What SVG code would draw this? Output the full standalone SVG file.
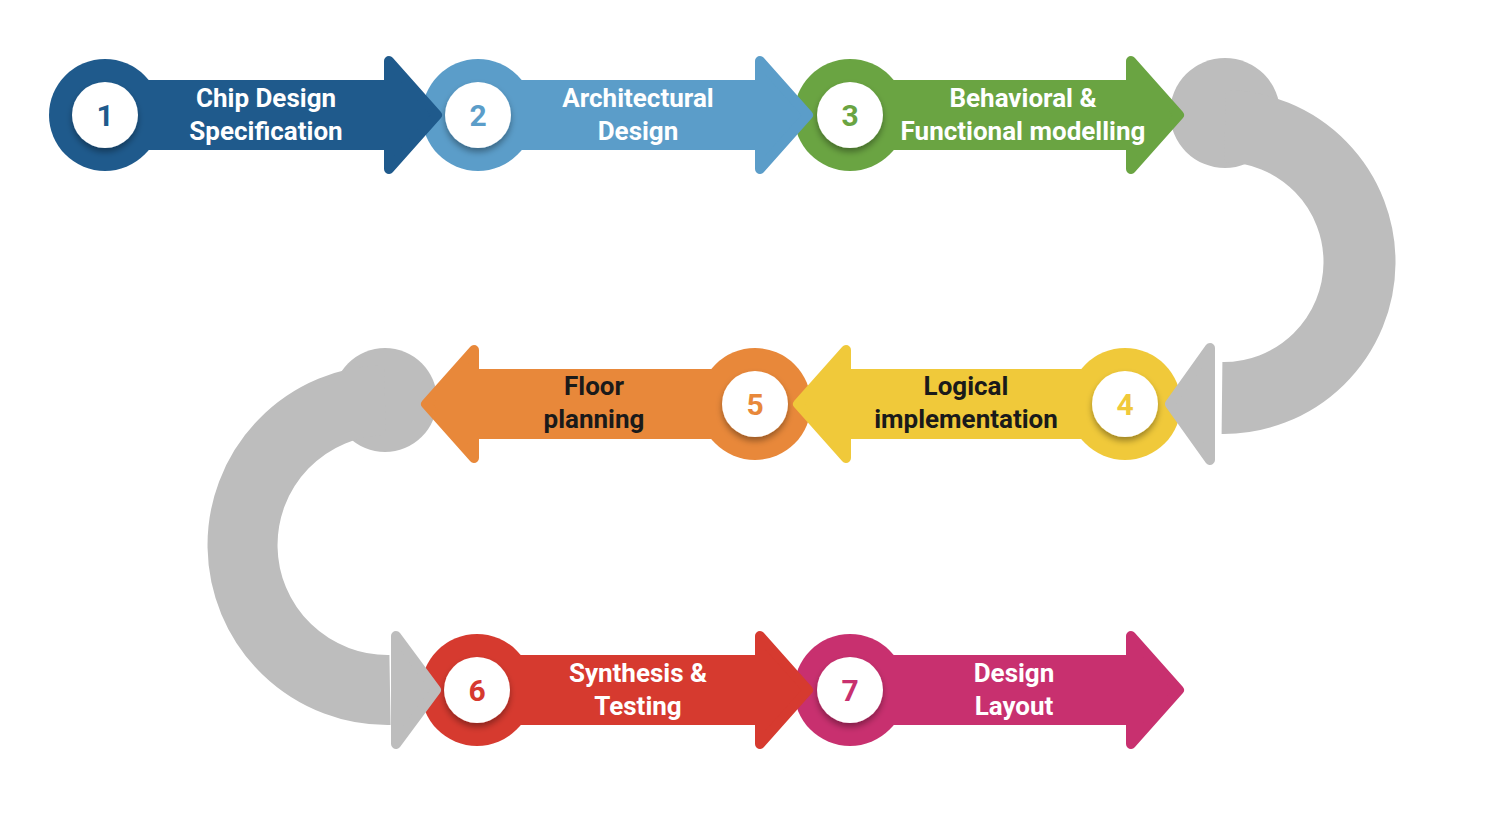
<svg xmlns="http://www.w3.org/2000/svg" width="1502" height="825" viewBox="0 0 1502 825">
<defs>
<filter id="sh" x="-30%" y="-30%" width="160%" height="170%"><feDropShadow dx="0" dy="4" stdDeviation="3" flood-color="#000" flood-opacity="0.35"/></filter>
</defs>
<style>
.w{fill:#fff;filter:url(#sh)}
.t{font-family:Roboto,"Liberation Sans",sans-serif;font-weight:bold;font-size:26px;text-anchor:middle}
.lt{fill:#fff}
.dk{fill:#1a1a1a}
.n{font-family:Roboto,"Liberation Sans",sans-serif;font-weight:bold;font-size:30px;text-anchor:middle}
.hd{stroke-width:10;stroke-linejoin:round}
.g{fill:#bdbdbd}
</style>
<rect width="1502" height="825" fill="#fff"/>
<g id="node7">
<circle cx="850" cy="690" r="56" fill="#c8306f"/><rect x="850" y="655" width="280" height="70" fill="#c8306f"/>
<polygon class="hd" points="1131,636 1179,690 1131,744" fill="#c8306f" stroke="#c8306f"/>
<circle class="w" cx="850" cy="690" r="33"/><text class="n" x="850" y="701" fill="#c8306f">7</text>
<text class="t lt" x="1014" y="682">Design</text><text class="t lt" x="1014" y="715">Layout</text>
</g>
<g id="node6">
<circle cx="477" cy="690" r="56" fill="#d63a2f"/><rect x="477" y="655" width="282" height="70" fill="#d63a2f"/>
<polygon class="hd" points="760,636 808,690 760,744" fill="#d63a2f" stroke="#d63a2f"/>
<circle class="w" cx="477" cy="690" r="33"/><text class="n" x="477" y="701" fill="#d63a2f">6</text>
<text class="t lt" x="638" y="682">Synthesis &amp;</text><text class="t lt" x="638" y="715">Testing</text>
</g>
<g id="connector-left" class="connectors">
<circle class="g" cx="385" cy="400" r="52"/>
<path d="M385,400 A145,145 0 0 0 390,690" fill="none" stroke="#bdbdbd" stroke-width="70"/>
<polygon class="hd" points="396,636 436,690 396,744" fill="#bdbdbd" stroke="#bdbdbd"/>
</g>
<g id="node5">
<circle cx="755" cy="404" r="56" fill="#e8883a"/><rect x="475" y="369" width="280" height="70" fill="#e8883a"/>
<polygon class="hd" points="474,350 426,404 474,458" fill="#e8883a" stroke="#e8883a"/>
<circle class="w" cx="755" cy="404" r="33"/><text class="n" x="755" y="415" fill="#e8883a">5</text>
<text class="t dk" x="594" y="395">Floor</text><text class="t dk" x="594" y="428">planning</text>
</g>
<g id="node4">
<circle cx="1125" cy="404" r="56" fill="#f0c93a"/><rect x="845" y="369" width="280" height="70" fill="#f0c93a"/>
<polygon class="hd" points="846,350 798,404 846,458" fill="#f0c93a" stroke="#f0c93a"/>
<circle class="w" cx="1125" cy="404" r="33"/><text class="n" x="1125" y="415" fill="#f0c93a">4</text>
<text class="t dk" x="966" y="395">Logical</text><text class="t dk" x="966" y="428">implementation</text>
</g>
<g id="connector-right" class="connectors">
<circle class="g" cx="1225" cy="113" r="55"/>
<path d="M1225,126 A136,136 0 0 1 1222,398" fill="none" stroke="#bdbdbd" stroke-width="72"/>
<polygon class="hd" points="1210,348 1170,404 1210,460" fill="#bdbdbd" stroke="#bdbdbd"/>
</g>
<g id="node3">
<circle cx="850" cy="115" r="56" fill="#6aa442"/><rect x="850" y="80" width="280" height="70" fill="#6aa442"/>
<polygon class="hd" points="1131,61 1179,115 1131,169" fill="#6aa442" stroke="#6aa442"/>
<circle class="w" cx="850" cy="115" r="33"/><text class="n" x="850" y="126" fill="#6aa442">3</text>
<text class="t lt" x="1023" y="107">Behavioral &amp;</text><text class="t lt" x="1023" y="140">Functional modelling</text>
</g>
<g id="node2">
<circle cx="478" cy="115" r="56" fill="#5b9dc9"/><rect x="478" y="80" width="281" height="70" fill="#5b9dc9"/>
<polygon class="hd" points="760,61 808,115 760,169" fill="#5b9dc9" stroke="#5b9dc9"/>
<circle class="w" cx="478" cy="115" r="33"/><text class="n" x="478" y="126" fill="#5b9dc9">2</text>
<text class="t lt" x="638" y="107">Architectural</text><text class="t lt" x="638" y="140">Design</text>
</g>
<g id="node1">
<circle cx="105" cy="115" r="56" fill="#1f5a8c"/><rect x="105" y="80" width="283" height="70" fill="#1f5a8c"/>
<polygon class="hd" points="389,61 437,115 389,169" fill="#1f5a8c" stroke="#1f5a8c"/>
<circle class="w" cx="105" cy="115" r="33"/><text class="n" x="105" y="126" fill="#1f5a8c">1</text>
<text class="t lt" x="266" y="107">Chip Design</text><text class="t lt" x="266" y="140">Specification</text>
</g>
</svg>
